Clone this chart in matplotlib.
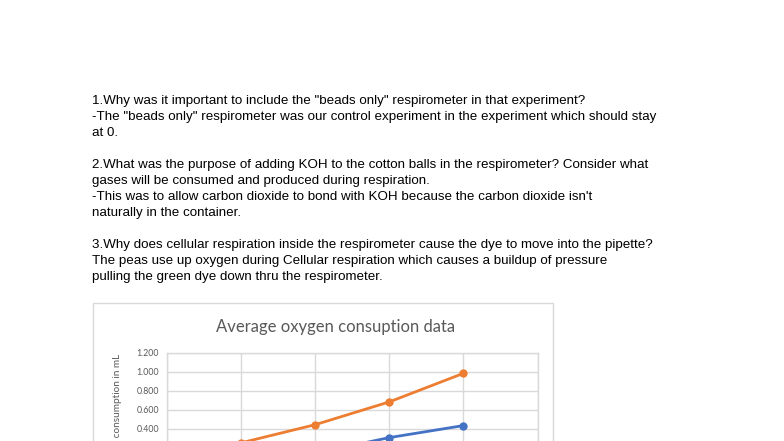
import matplotlib
matplotlib.use("Agg")
import matplotlib.pyplot as plt
from matplotlib.patches import Rectangle

# Document text lines (blank entries are paragraph gaps)
doc_lines = [
    '1.Why was it important to include the "beads only" respirometer in that experiment?',
    '-The "beads only" respirometer was our control experiment in the experiment which should stay',
    'at 0.',
    '',
    '2.What was the purpose of adding KOH to the cotton balls in the respirometer? Consider what',
    'gases will be consumed and produced during respiration.',
    "-This was to allow carbon dioxide to bond with KOH because the carbon dioxide isn't",
    'naturally in the container.',
    '',
    '3.Why does cellular respiration inside the respirometer cause the dye to move into the pipette?',
    'The peas use up oxygen during Cellular respiration which causes a buildup of pressure',
    'pulling the green dye down thru the respirometer.',
]

# Chart data (time in minutes vs. average oxygen consumption in mL)
time_min = [0, 5, 10, 15, 20]
series_blue = [0.0, 0.06, 0.14, 0.305, 0.432]
series_orange = [0.0, 0.25, 0.442, 0.683, 0.985]
y_ticks = [0.0, 0.2, 0.4, 0.6, 0.8, 1.0, 1.2]
chart_title = "Average oxygen consuption data"
y_label = "Oxygen consumption in mL"

W, H = 784, 441
fig = plt.figure(figsize=(W / 100, H / 100), dpi=100)
fig.patch.set_facecolor("white")

def fx(px):
    return px / W

def fy(py):
    return 1 - py / H

# paragraph text
for k, line in enumerate(doc_lines):
    if line:
        fig.text(fx(92), fy(104 + 16 * k), line, fontsize=9.65,
                 family="Liberation Sans", color="black", va="baseline", ha="left")

# chart frame
grey = "#d9d9d9"
frame = Rectangle((fx(92.5), -0.2), fx(552.5) - fx(92.5), fy(302.7) + 0.2,
                  transform=fig.transFigure, facecolor="white", edgecolor=grey,
                  linewidth=1.0, zorder=-5)
fig.patches.append(frame)

ax = fig.add_axes([fx(167.3), fy(466.4), fx(537.5) - fx(167.3), fy(353) - fy(466.4)])
ax.set_zorder(2)
ax.patch.set_alpha(0)
ax.plot(time_min, series_blue, color="#4472C4", lw=2.0, marker="o", markersize=5)
ax.plot(time_min, series_orange, color="#ED7D31", lw=2.0, marker="o", markersize=5)
ax.set_xlim(0, 25)
ax.set_ylim(0, 1.2)
ax.set_xticks(range(0, 26, 5))
ax.set_yticks(y_ticks)
ax.set_yticklabels([f"{v:.3f}" for v in y_ticks], family="Lato", fontsize=6.3, color="#595959")
ax.tick_params(length=0, pad=6)
ax.tick_params(axis="x", labelbottom=False)
ax.grid(True, color=grey, linewidth=1.0)
ax.set_axisbelow(True)
for sp in ax.spines.values():
    sp.set_color(grey)
    sp.set_linewidth(1.0)

fig.text(fx(336), fy(327), chart_title, family="Lato", fontsize=12, color="#595959",
         ha="center", va="center")
fig.text(fx(118), fy(353.5), y_label, family="Lato", fontsize=7.2, color="#595959",
         rotation=90, ha="center", va="top")

fig.savefig("out.png", dpi=100)
